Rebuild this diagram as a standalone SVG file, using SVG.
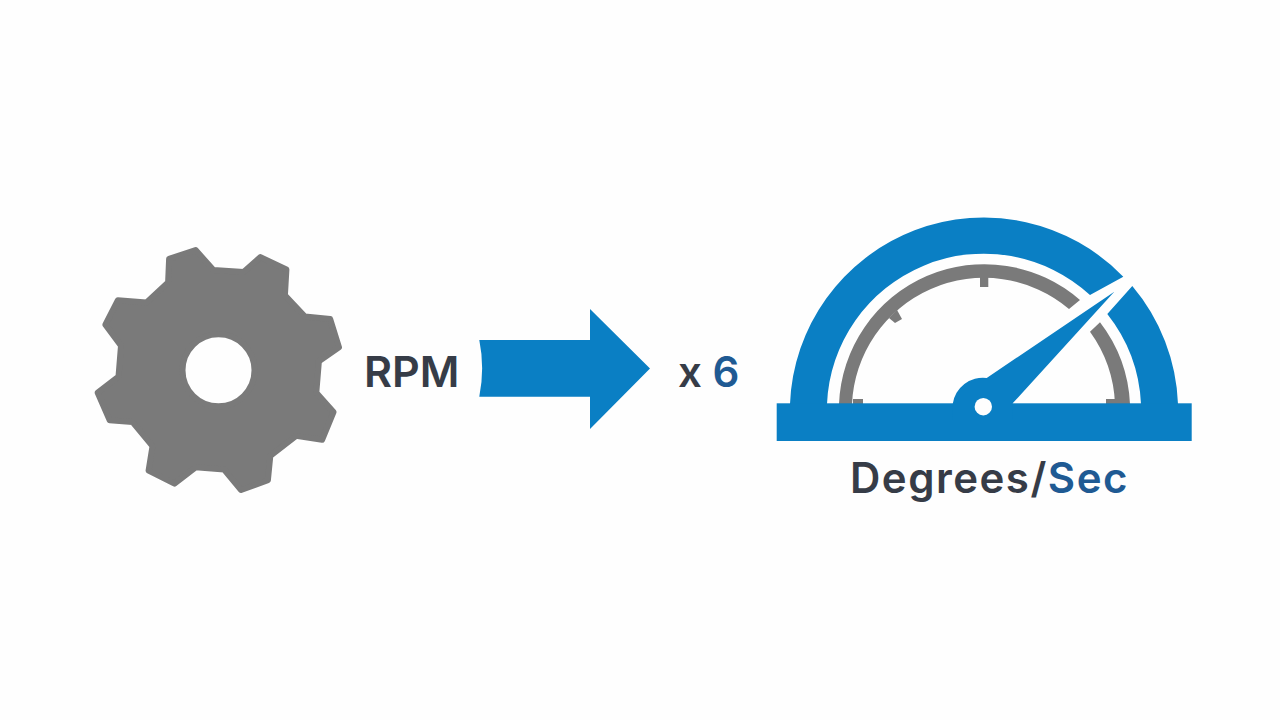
<svg xmlns="http://www.w3.org/2000/svg" width="1280" height="720" viewBox="0 0 1280 720">
<style>
.blue{fill:#0a7fc4}
.gray{fill:#7a7a7a}
.label{font-family:"Inter","Liberation Sans",sans-serif;font-weight:600;fill:#363c47}
.accent{fill:#1f5a93}
</style>
<rect width="1280" height="720" fill="#fefefe"/>
<g id="gear">
<path class="gray" fill-rule="evenodd" stroke="#7a7a7a" stroke-width="6" stroke-linejoin="round" d="M195.6 250 L213.4 270.1 L243.6 272 L260.5 257.1 L286.4 269.5 L284.9 295.4 L304.9 316.5 L330.2 319.1 L339 347.3 L318.9 361.3 L316.3 392.7 L333.5 412.1 L322.1 439.8 L296.1 435.9 L270.3 455.9 L267.9 480.3 L241.1 490 L224.1 469.5 L195.6 467.3 L174.5 483.6 L148.6 470.5 L152.5 446.2 L132.4 421.9 L109.7 420.3 L97.7 392.7 L118.5 376.5 L121 345.7 L105.4 324.6 L117.8 300.3 L146.3 302.6 L168.1 282.4 L169.1 258.8 Z M218.5 334.3 A36 36 0 1 0 218.5 406.3 A36 36 0 1 0 218.5 334.3 Z"/>
</g>
<g id="rpm"><text class="label" x="364" y="387" font-size="43">RPM</text></g>
<g id="connectors">
<path class="blue" d="M479.3 340 H590 V309 L650 368.5 L590 429 V396.7 H479.3 Q485 368 479.3 340 Z"/>
</g>
<g id="times-six"><text class="label" x="678" y="387" font-size="42">x <tspan class="accent">6</tspan></text></g>
<g id="gauge">
<path class="gray" d="M839 404 A145.5 145.5 0 0 1 1080 300 L1069 309 A132 132 0 0 0 852 404 Z"/>
<path class="gray" d="M1100 322.3 A145.5 145.5 0 0 1 1130 404 H1115 A132 132 0 0 0 1090 331.7 Z"/>
<rect class="gray" x="980" y="276" width="8.3" height="11"/>
<path class="gray" d="M889 318 L897 310 L902 319 L895 323 Z"/>
<rect class="gray" x="853" y="399" width="10" height="6"/>
<rect class="gray" x="1106" y="399" width="10" height="6"/>
<path class="blue" d="M790 404 A194 194 0 0 1 1123.3 276.7 L1090 295 A157 157 0 0 0 827 404 Z"/>
<path class="blue" d="M1132.3 286 A194 194 0 0 1 1178 404 H1141 A157 157 0 0 0 1107.3 314 Z"/>
<rect class="blue" x="776.7" y="403.3" width="415" height="37.7"/>
<path class="blue" d="M952.7 404 A30.5 30.5 0 0 1 986.7 378 L1114.3 291.7 L1012.7 403.3 L1012 420 H953 Z"/>
<circle cx="983.3" cy="406.7" r="8.7" fill="#fefefe"/>
</g>
<g id="degrees"><text class="label" x="850" y="493.3" font-size="42" letter-spacing="1.5">Degrees/<tspan class="accent">Sec</tspan></text></g>
</svg>
